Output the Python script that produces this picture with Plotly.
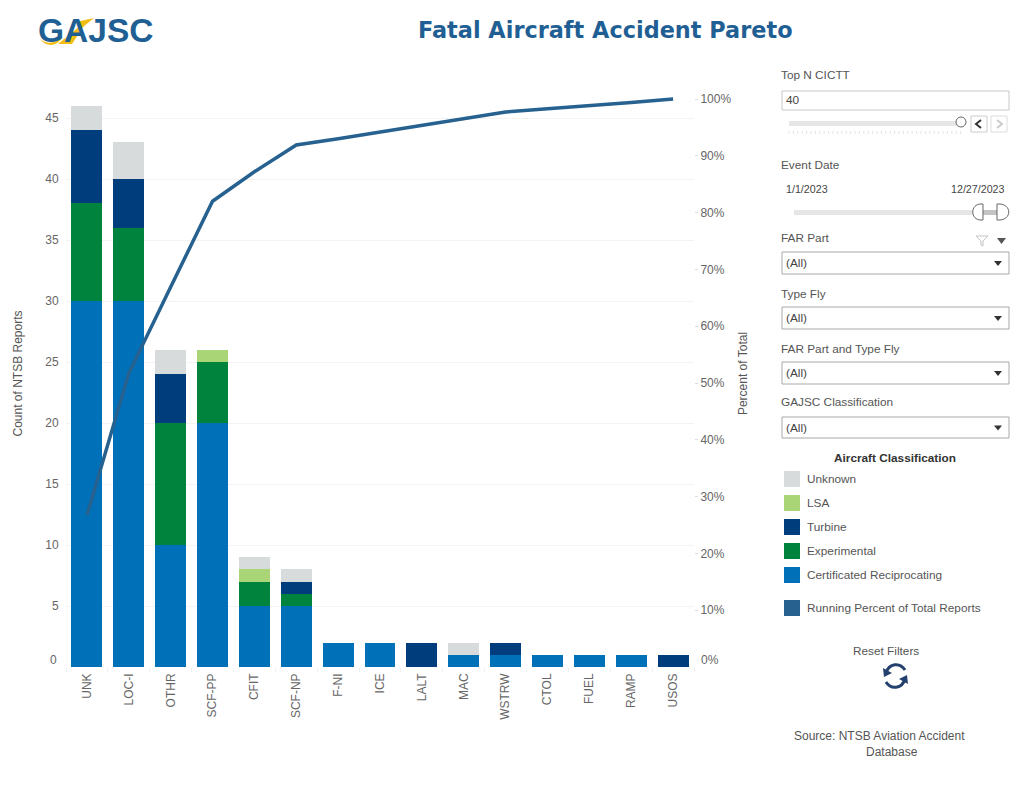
import plotly.graph_objects as go

W, H = 1024, 808

# chart data
codes = ["UNK", "LOC-I", "OTHR", "SCF-PP", "CFIT", "SCF-NP", "F-NI", "ICE", "LALT", "MAC", "WSTRW", "CTOL", "FUEL", "RAMP", "USOS"]
certificated = [30, 30, 10, 20, 5, 5, 2, 2, 0, 1, 1, 1, 1, 1, 0]
experimental = [8, 6, 10, 5, 2, 1, 0, 0, 0, 0, 0, 0, 0, 0, 0]
turbine = [6, 4, 4, 0, 0, 1, 0, 0, 2, 0, 1, 0, 0, 0, 1]
lsa = [0, 0, 0, 1, 1, 0, 0, 0, 0, 0, 0, 0, 0, 0, 0]
unknown = [2, 3, 2, 0, 1, 1, 0, 0, 0, 1, 0, 0, 0, 0, 0]
running_pct = [26.7, 51.7, 66.9, 82.0, 87.2, 91.9, 93.0, 94.2, 95.3, 96.5, 97.7, 98.3, 98.8, 99.4, 100]

count_ticks = [5, 10, 15, 20, 25, 30, 35, 40, 45]
pct_ticks = [10, 20, 30, 40, 50, 60, 70, 80, 90, 100]

BLUE = "#0070b9"
GREEN = "#00843d"
NAVY = "#003d7c"
LIGHTGREEN = "#aad576"
GREY = "#d8dbdc"
LINE = "#26618f"
TEXT = "#555555"
FONT = "Liberation Sans"

PLOT_L, PLOT_R, PLOT_T, PLOT_B = 66, 694, 80, 667


def px(x):
    return x / W


def py(y):
    return 1 - y / H


shapes = []
notes = []


def label(x, y, text, size=11.8, color=TEXT, anchor="left", font=FONT):
    notes.append(dict(x=px(x), y=py(y), xref="paper", yref="paper", text=text, showarrow=False,
                      xanchor=anchor, yanchor="middle", font=dict(family=font, size=size, color=color)))


def box(x0, y0, x1, y1, fill="white", line=None, width=1):
    shapes.append(dict(type="rect", xref="paper", yref="paper", x0=px(x0), y0=py(y0), x1=px(x1), y1=py(y1),
                       fillcolor=fill, line=dict(color=line or "rgba(0,0,0,0)", width=width if line else 0)))


def path(tokens, fill=None, line=None, width=1):
    # tokens are svg commands and pixel positions, converted to paper units here
    out = []
    i = 0
    while i < len(tokens):
        if isinstance(tokens[i], str):
            out.append(tokens[i])
            i += 1
        else:
            out.append(f"{px(tokens[i]):.5f},{py(tokens[i + 1]):.5f}")
            i += 2
    shapes.append(dict(type="path", xref="paper", yref="paper", path=" ".join(out),
                       fillcolor=fill or "rgba(0,0,0,0)",
                       line=dict(color=line or "rgba(0,0,0,0)", width=width if line else 0)))


def dropdown(y0, y1, caption, caption_y):
    label(779, caption_y, caption)
    box(782, y0, 1009, y1, line="#a8a8a8")
    label(784, (y0 + y1) / 2, "(All)", color="#444444")
    mid = (y0 + y1) / 2
    path(["M", 994, mid - 2, "L", 1002, mid - 2, "L", 998, mid + 3, "Z"], fill="#333333")


fig = go.Figure()
for name, vals, col in [("Certificated Reciprocating", certificated, BLUE), ("Experimental", experimental, GREEN),
                        ("Turbine", turbine, NAVY), ("LSA", lsa, LIGHTGREEN), ("Unknown", unknown, GREY)]:
    fig.add_trace(go.Bar(x=codes, y=vals, name=name, marker=dict(color=col, line=dict(width=0))))

fig.add_trace(go.Scatter(x=codes, y=running_pct, name="Running Percent of Total Reports", yaxis="y2",
                         mode="lines", line=dict(color=LINE, width=3.5)))

# header
label(605, 30, "<b>Fatal Aircraft Accident Pareto</b>", size=22.4, color="#1f5f94", anchor="center", font="DejaVu Sans")
path(["M", 58, 44, "L", 72, 44, "L", 83, 27, "L", 94, 18, "L", 76, 22, "L", 80, 26, "Z"], fill="#f2bd12")
path(["M", 40, 39, "C", 46, 44, 54, 44, 62, 38, "C", 56, 47, 46, 47, 40, 39, "Z"], fill="#f2bd12")
label(36, 30, "<b>GAJSC</b>", size=33.5, color="#1f5f94")

# zero labels sit above the baseline in the original
label(59, 660, "0", size=12, color="#666666", anchor="right")
label(699, 660, "0%", size=12, color="#666666")

# side panel
label(779, 75, "Top N CICTT")
box(782, 91, 1009, 110, line="#c8c8c8")
label(784, 100, "40", color="#444444")
box(789, 121, 958, 126, fill="#e6e6e6")
tick_path = []
for i in range(40):
    tick_path += ["M", 789 + i * 4.4, 131, "L", 789 + i * 4.4, 134]
path(tick_path, line="#e4e4e4", width=1)
shapes.append(dict(type="circle", xref="paper", yref="paper", x0=px(956), x1=px(966), y0=py(117), y1=py(127),
                   fillcolor="white", line=dict(color="#666666", width=1)))
box(971, 116, 987, 132, line="#cccccc")
path(["M", 981, 120, "L", 976, 124, "L", 981, 128], line="#333333", width=2)
box(991, 116, 1007, 132, line="#dddddd")
path(["M", 997, 120, "L", 1002, 124, "L", 997, 128], line="#cccccc", width=2)

label(779, 165, "Event Date")
label(784, 189, "1/1/2023", size=10.7, color="#444444")
label(1007, 189, "12/27/2023", size=10.7, color="#444444", anchor="right")
box(794, 210, 975, 215, fill="#e6e6e6")
box(983, 210, 997, 215, fill="#c4c4c4")
path(["M", 983, 204, "L", 981, 204, "C", 970, 204, 970, 220, 981, 220, "L", 983, 220, "Z"], fill="white", line="#666666")
path(["M", 997, 204, "L", 999, 204, "C", 1012, 204, 1012, 220, 999, 220, "L", 997, 220, "Z"], fill="white", line="#666666")

dropdown(252, 274, "FAR Part", 238)
path(["M", 976, 236, "L", 988, 236, "L", 983, 241, "L", 983, 246, "L", 981, 245, "L", 981, 241, "Z"], line="#c4c4c4")
path(["M", 997, 238, "L", 1006, 238, "L", 1001.5, 244, "Z"], fill="#555555")
dropdown(307, 329, "Type Fly", 294)
dropdown(362, 384, "FAR Part and Type Fly", 349)
dropdown(417, 438, "GAJSC Classification", 402)

# legend
label(895, 458, "<b>Aircraft Classification</b>", color="#333333", anchor="center")
legend_rows = [("Unknown", GREY, 479), ("LSA", LIGHTGREEN, 503), ("Turbine", NAVY, 527), ("Experimental", GREEN, 551),
               ("Certificated Reciprocating", BLUE, 575), ("Running Percent of Total Reports", LINE, 608)]
for name, col, y in legend_rows:
    box(784, y - 8, 800, y + 8, fill=col)
    label(805, y, name)

label(886, 651, "Reset Filters", anchor="center")
path(["M", 905, 670, "C", 900, 662, 889, 663, 886, 673], line="#23406e", width=3)
path(["M", 883, 668, "L", 884, 677, "L", 892, 673, "Z"], fill="#23406e")
path(["M", 886, 682, "C", 891, 690, 902, 689, 905, 679], line="#23406e", width=3)
path(["M", 908, 684, "L", 907, 675, "L", 899, 679, "Z"], fill="#23406e")

label(879, 736, "Source: NTSB Aviation Accident", size=12, anchor="center")
label(892, 752, "Database", size=12, anchor="center")

fig.update_layout(
    width=W, height=H, margin=dict(l=0, r=0, t=0, b=0), autosize=False,
    paper_bgcolor="white", plot_bgcolor="white",
    barmode="stack", bargap=0.26, showlegend=False,
    font=dict(family=FONT, size=12, color="#666666"),
    shapes=shapes, annotations=notes,
    xaxis=dict(domain=[px(PLOT_L), px(PLOT_R)], tickangle=-90, tickson="boundaries", ticks="outside", ticklen=4,
               tickcolor="#f0f0f0", ticklabelstandoff=3, showgrid=False, showline=False, zeroline=False,
               automargin=False),
    yaxis=dict(domain=[py(PLOT_B), py(PLOT_T)], range=[0, (PLOT_B - PLOT_T) / 12.2], tickvals=count_ticks,
               ticks="outside", ticklen=4, tickcolor="rgba(0,0,0,0)", gridcolor="#f3f3f3", gridwidth=1,
               zeroline=False, showline=False, automargin=False,
               title=dict(text="Count of NTSB Reports", standoff=20, font=dict(size=12, color=TEXT))),
    yaxis2=dict(overlaying="y", side="right", anchor="x", range=[0, (PLOT_B - PLOT_T) / 5.68], tickvals=pct_ticks,
                ticktext=[f"{v}%" for v in pct_ticks], ticks="outside", ticklen=3, tickcolor="#dddddd",
                showgrid=False, zeroline=False, showline=False, automargin=False,
                title=dict(text="Percent of Total", standoff=8, font=dict(size=12, color=TEXT))),
)

fig.write_html("out.html", config=dict(displayModeBar=False),
               post_script="document.body.style.margin='0';document.body.style.overflow='hidden';")
